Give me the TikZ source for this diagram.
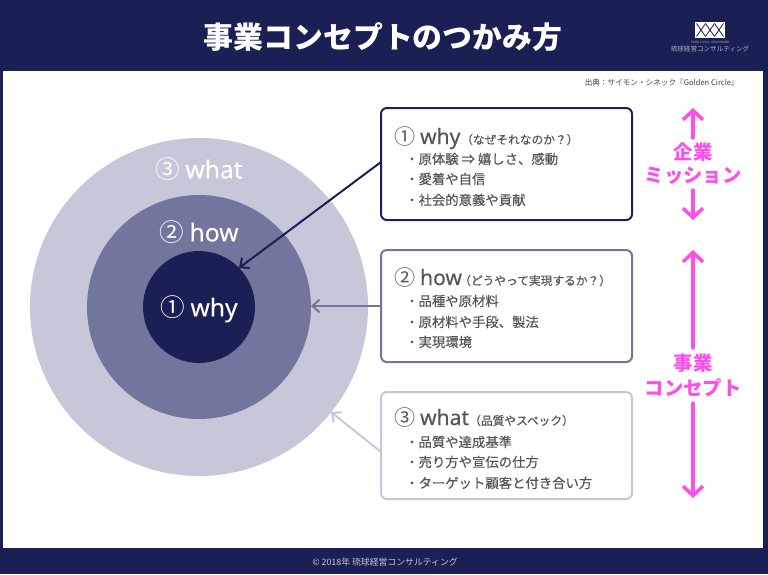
\documentclass[tikz,border=0pt]{standalone}
\usepackage{fontspec}
\setmainfont{Noto Sans CJK JP}
\newfontfamily\latnfont[FakeBold=0.2]{Noto Sans}
\newfontfamily\mediumfont[FakeBold=0.25]{Noto Sans CJK JP}
\usetikzlibrary{arrows.meta}
\definecolor{navy}{HTML}{1A1F54}
\definecolor{midblue}{HTML}{73769C}
\definecolor{paleblue}{HTML}{C6C8DA}
\definecolor{bodygray}{HTML}{555555}
\definecolor{hotpink}{HTML}{FF4DEC}
\tikzset{
  infobox/.style={draw=#1, line width=1.7pt, rounded corners=5pt, fill=white, inner sep=0pt, outer sep=0pt, anchor=north west},
  headline/.style={anchor=base west, inner sep=0pt, text=bodygray, font=\fontsize{18}{19}\selectfont},
  subhead/.style={anchor=base west, inner sep=0pt, text=bodygray, font=\fontsize{10}{10}\selectfont\mediumfont},
  bodyline/.style={anchor=base west, inner sep=0pt, text=bodygray, font=\fontsize{11.4}{12}\selectfont\mediumfont},
  ringlabel/.style={inner sep=0pt, font=\fontsize{21}{22}\selectfont},
  pinktext/.style={inner sep=0pt, text=hotpink, font=\fontsize{16.5}{17}\selectfont\bfseries},
  pinkarrow/.style={draw=hotpink, line width=3pt, line cap=round, -{Straight Barb[length=8pt,width=17pt,line width=3pt]}},
  linkarrow/.style={draw=#1, line width=1.7pt, -{Straight Barb[length=6pt,width=11pt]}},
}
\begin{document}
\begin{tikzpicture}[x=0.03cm,y=-0.03cm]
\useasboundingbox (0,0) rectangle (768,574);
\fill[navy] (0,0) rectangle (768,574);
\fill[white] (3,71) rectangle (763,548);
% title bar
\node[inner sep=0pt, text=white, font=\fontsize{25.5}{26}\selectfont\bfseries] (title) at (383,37) {事業コンセプトのつかみ方};
\node[fill=white, minimum width=0.9cm, minimum height=0.48cm, inner sep=0pt] (logo) at (710,30) {};
\foreach \x in {701,710,719} {
\draw[navy, line width=0.7pt] (\x-4.5,23.5) -- (\x+4.5,36.5);
\draw[navy, line width=0.7pt] (\x+4.5,23.5) -- (\x-4.5,36.5);
}
\node[inner sep=0pt, text=white!65!navy, font=\fontsize{2.6}{3}\selectfont] (motto) at (710,43) {GOOD LOCAL, GOOD WORK};
\node[inner sep=0pt, text=white!65!navy, font=\fontsize{5.6}{6}\selectfont] (company) at (710,49) {琉球経営コンサルティング};
\node[anchor=east, inner sep=0pt, text=black!75, font=\fontsize{6.5}{7}\selectfont] (source) at (739,83) {出典：サイモン・シネック『Golden Circle』};
% circles
\node[circle, fill=paleblue, minimum size=338*0.03cm, inner sep=0pt] (outer) at (199,307) {};
\node[circle, fill=midblue, minimum size=224*0.03cm, inner sep=0pt] (middle) at (199,307) {};
\node[circle, fill=navy, minimum size=112*0.03cm, inner sep=0pt] (inner) at (199,307) {};
\node[ringlabel, text=white] (whatlabel) at (199,169) {③ {\latnfont what}};
\node[ringlabel, text=white] (howlabel) at (199,232) {② {\latnfont how}};
\node[ringlabel, text=white] (whylabel) at (199,309) {① {\latnfont why}};
% boxes
\node[infobox=navy, minimum width=251*0.03cm, minimum height=112*0.03cm] (whybox) at (381,108) {};
\node[infobox=midblue, minimum width=251*0.03cm, minimum height=112*0.03cm] (howbox) at (381,250) {};
\node[infobox=paleblue, minimum width=251*0.03cm, minimum height=107*0.03cm] (whatbox) at (381,392) {};
\node[headline] (whyhead) at (394,144) {① {\latnfont why}};
\node[headline] (howhead) at (394,285) {② {\latnfont how}};
\node[headline] (whathead) at (394,425) {③ {\latnfont what}};
\node[subhead] (whysub) at (461,144) {（なぜそれなのか？）};
\node[subhead] (howsub) at (459,285) {（どうやって実現するか？）};
\node[subhead] (whatsub) at (469,425) {（品質やスペック）};
\foreach \name/\y/\txt in {a/164/原体験 ⇒ 嬉しさ、感動, b/184/愛着や自信, c/205/社会的意義や貢献,
  d/306/品種や原材料, e/327/原材料や手段、製法, f/347/実現環境,
  g/447/品質や達成基準, h/467/売り方や宣伝の仕方, i/488/ターゲット顧客と付き合い方} {
\node[bodyline] (line\name) at (405,\y) {・\txt};
}
% links
\coordinate (whyend) at (239,268);
\coordinate (howend) at (311,306);
\coordinate (whatend) at (331,412);
\coordinate (whystart) at (381,162);
\coordinate (whatstart) at (381,452);
\draw[linkarrow=navy] (whystart) -- (whyend);
\draw[linkarrow=midblue] (howbox.west) -- (howend);
\draw[linkarrow=paleblue] (whatstart) -- (whatend);
% right side
\node[pinktext] (mission1) at (693,152) {企業};
\node[pinktext] (mission2) at (693,176) {ミッション};
\node[pinktext] (concept1) at (693,363) {事業};
\node[pinktext] (concept2) at (693,388) {コンセプト};
\coordinate (ma) at (693,108);
\coordinate (mb) at (693,138);
\coordinate (mc) at (693,190);
\coordinate (md) at (693,220);
\coordinate (ca) at (693,250);
\coordinate (cb) at (693,348);
\coordinate (cc) at (693,403);
\coordinate (cd) at (693,498);
\draw[pinkarrow] (mb) -- (ma);
\draw[pinkarrow] (mc) -- (md);
\draw[pinkarrow] (cb) -- (ca);
\draw[pinkarrow] (cc) -- (cd);
% footer
\node[inner sep=0pt, text=white!75!navy, font=\fontsize{7.55}{8}\selectfont] (footer) at (385,562) {© 2018年 琉球経営コンサルティング};
\end{tikzpicture}
\end{document}
